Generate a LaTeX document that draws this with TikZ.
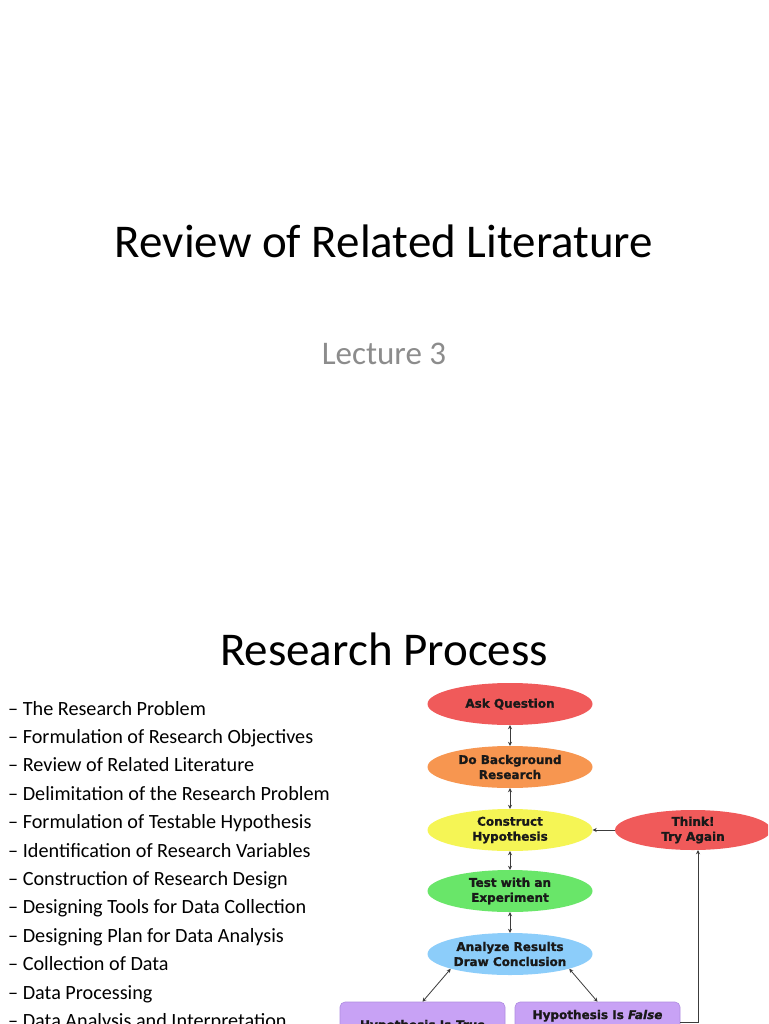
\documentclass[tikz,border=0pt]{standalone}
\usepackage{fontspec}
\setmainfont{Carlito}
\newfontfamily\diagfont[BoldFeatures={FakeBold=1.2},BoldItalicFeatures={FakeBold=1.2}]{DejaVu Sans}
\usetikzlibrary{shapes.geometric,arrows.meta}
\definecolor{cred}{RGB}{240,90,90}
\definecolor{corange}{RGB}{247,150,80}
\definecolor{cyellow}{RGB}{245,245,85}
\definecolor{cgreen}{RGB}{105,230,105}
\definecolor{cblue}{RGB}{140,205,250}
\definecolor{clav}{RGB}{200,162,245}
\definecolor{clavline}{RGB}{175,140,225}
\definecolor{cgray}{RGB}{140,140,140}
\definecolor{cline}{RGB}{60,60,60}
\tikzset{
  bigtitle/.style={anchor=base,inner sep=0pt,font=\fontsize{47}{56}\selectfont},
  subtitle/.style={anchor=base,inner sep=0pt,text=cgray,font=\fontsize{33}{40}\selectfont},
  bullet/.style={anchor=base west,inner sep=0pt,font=\fontsize{20.2}{24}\selectfont},
  oval/.style={ellipse,inner sep=0pt,minimum width=165pt,minimum height=42pt,
    align=center,text=black!90,font=\diagfont\bfseries\fontsize{12}{15}\selectfont},
  hbox/.style={rectangle,rounded corners=5pt,fill=clav,draw=clavline,line width=0.6pt,
    minimum width=165pt,minimum height=46pt,inner sep=0pt},
  hlabel/.style={anchor=base,inner sep=0pt,text=black!90,font=\diagfont\bfseries\fontsize{12}{15}\selectfont},
  conn/.style={draw=cline,line width=0.8pt},
  dbl/.style={conn,{Stealth[length=4pt,width=4pt]}-{Stealth[length=4pt,width=4pt]}},
  sgl/.style={conn,-{Stealth[length=4pt,width=4pt]}},
}
\begin{document}
\begin{tikzpicture}[x=1pt,y=-1pt]
\useasboundingbox (0,0) rectangle (768,1024);
\clip (0,0) rectangle (768,1024);
\fill[white] (0,0) rectangle (768,1024);

% slide 1
\node[bigtitle] (t1) at (384,258) {Review of Related Literature};
\node[subtitle] (t2) at (384,364) {Lecture 3};

% slide 2
\node[bigtitle] (t3) at (384,665) {Research Process};

\node[bullet] (b1) at (8,715.0) {– The Research Problem};
\node[bullet] (b2) at (8,743.4) {– Formulation of Research Objectives};
\node[bullet] (b3) at (8,771.8) {– Review of Related Literature};
\node[bullet] (b4) at (8,800.2) {– Delimitation of the Research Problem};
\node[bullet] (b5) at (8,828.6) {– Formulation of Testable Hypothesis};
\node[bullet] (b6) at (8,857.0) {– Identification of Research Variables};
\node[bullet] (b7) at (8,885.4) {– Construction of Research Design};
\node[bullet] (b8) at (8,913.8) {– Designing Tools for Data Collection};
\node[bullet] (b9) at (8,942.2) {– Designing Plan for Data Analysis};
\node[bullet] (b10) at (8,970.6) {– Collection of Data};
\node[bullet] (b11) at (8,999.0) {– Data Processing};
\node[bullet] (b12) at (8,1027.4) {– Data Analysis and Interpretation};

% diagram
\node[oval,fill=cred] (ask) at (510,704) {Ask Question};
\node[oval,fill=corange] (bg) at (510,767) {Do Background\\Research};
\node[oval,fill=cyellow] (ch) at (510,830) {Construct\\Hypothesis};
\node[oval,fill=cgreen] (test) at (510,891) {Test with an\\Experiment};
\node[oval,fill=cblue] (an) at (510,954) {Analyze Results\\Draw Conclusion};
\node[oval,fill=cred,minimum width=156pt,minimum height=40pt] (think) at (693,830) {Think!\\Try Again};

\node[hbox] (tb) at (422.5,1025) {};
\node[hbox] (fb) at (597.5,1025) {};
\node[hlabel] (tbl) at (422.5,1029) {Hypothesis Is \textit{True}};
\node[hlabel] (fbl) at (597.5,1019) {Hypothesis Is \textit{False}};

\draw[dbl] (ask) -- (bg);
\draw[dbl] (bg) -- (ch);
\draw[dbl] (ch) -- (test);
\draw[dbl] (test) -- (an);
\draw[dbl] (an.194) -- (tb.north);
\draw[dbl] (an.346) -- (fb.north);
\draw[sgl] (think.west) -- (ch.east);
\coordinate (corner) at (698,1022);
\draw[sgl] (fb.east |- corner) -- (corner) -- (corner |- think.south);
\end{tikzpicture}
\end{document}
